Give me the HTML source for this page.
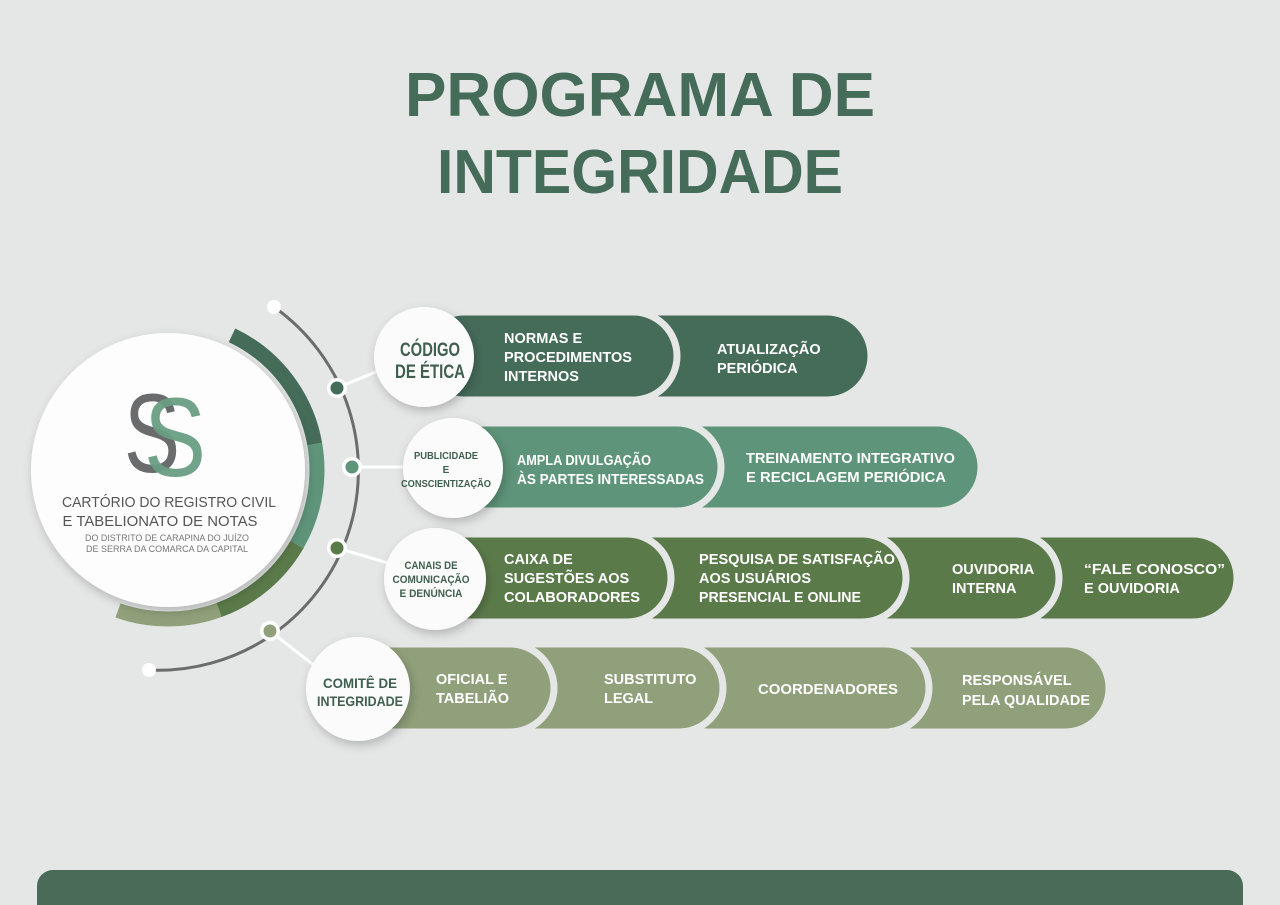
<!DOCTYPE html>
<html><head><meta charset="utf-8"><style>
html,body{margin:0;padding:0;background:#e5e7e6;}
svg{display:block}
text{font-family:"Liberation Sans",sans-serif;}
.w{fill:#fff;font-weight:bold;font-size:14.5px;}
.l{fill:#3f5f4f;font-weight:bold;}
</style></head><body>
<svg width="1280" height="905" viewBox="0 0 1280 905" xmlns="http://www.w3.org/2000/svg">
<defs>
<filter id="sh" x="-30%" y="-30%" width="160%" height="160%"><feDropShadow dx="2" dy="4" stdDeviation="5" flood-color="#000" flood-opacity="0.22"/></filter>
</defs>
<rect width="1280" height="905" fill="#e5e7e6"/>
<text x="640" y="116" text-anchor="middle" font-size="62" font-weight="bold" fill="#456b59" textLength="470" lengthAdjust="spacingAndGlyphs">PROGRAMA DE</text>
<text x="640" y="193" text-anchor="middle" font-size="62" font-weight="bold" fill="#456b59" textLength="406" lengthAdjust="spacingAndGlyphs">INTEGRIDADE</text>

<rect x="37" y="870" width="1206" height="60" rx="16" fill="#4a6b58"/>

<path d="M274 307 A 200 200 0 0 1 149 670" fill="none" stroke="#6b6d6c" stroke-width="3"/>
<circle cx="274" cy="307" r="7" fill="#fff"/>
<circle cx="149" cy="670" r="7" fill="#fff"/>

<g stroke="#fff" stroke-width="3">
<line x1="337" y1="388" x2="385" y2="368"/>
<line x1="352" y1="467" x2="410" y2="467"/>
<line x1="337" y1="548" x2="395" y2="565"/>
<line x1="270" y1="631" x2="320" y2="670"/>
</g>

<g stroke="#e5e7e6" stroke-width="7">
<rect x="600" y="312" width="271" height="88" rx="44" fill="#456b59"/>
<rect x="420" y="312" width="257" height="88" rx="44" fill="#456b59"/>
<rect x="650" y="423" width="331" height="88" rx="44" fill="#5e9479"/>
<rect x="440" y="423" width="281" height="88" rx="44" fill="#5e9479"/>
<rect x="1000" y="534" width="237" height="88" rx="44" fill="#5b7a4a"/>
<rect x="845" y="534" width="214" height="88" rx="44" fill="#5b7a4a"/>
<rect x="610" y="534" width="296" height="88" rx="44" fill="#5b7a4a"/>
<rect x="420" y="534" width="251" height="88" rx="44" fill="#5b7a4a"/>
<rect x="868" y="644" width="241" height="88" rx="44" fill="#8fa07a"/>
<rect x="662" y="644" width="267" height="88" rx="44" fill="#8fa07a"/>
<rect x="493" y="644" width="230" height="88" rx="44" fill="#8fa07a"/>
<rect x="340" y="644" width="214" height="88" rx="44" fill="#8fa07a"/>
</g>

<g>
<text class="w" x="504" y="343">NORMAS E</text>
<text class="w" x="504" y="362" textLength="128" lengthAdjust="spacingAndGlyphs">PROCEDIMENTOS</text>
<text class="w" x="504" y="381">INTERNOS</text>
<text class="w" x="717" y="354">ATUALIZAÇÃO</text>
<text class="w" x="717" y="373">PERIÓDICA</text>

<text class="w" x="517" y="465" textLength="134" lengthAdjust="spacingAndGlyphs">AMPLA DIVULGAÇÃO</text>
<text class="w" x="517" y="484" textLength="187" lengthAdjust="spacingAndGlyphs">ÀS PARTES INTERESSADAS</text>
<text class="w" x="746" y="463" textLength="209" lengthAdjust="spacingAndGlyphs">TREINAMENTO INTEGRATIVO</text>
<text class="w" x="746" y="482" textLength="200" lengthAdjust="spacingAndGlyphs">E RECICLAGEM PERIÓDICA</text>

<text class="w" x="504" y="564">CAIXA DE</text>
<text class="w" x="504" y="583">SUGESTÕES AOS</text>
<text class="w" x="504" y="602" textLength="136" lengthAdjust="spacingAndGlyphs">COLABORADORES</text>
<text class="w" x="699" y="564" textLength="196" lengthAdjust="spacingAndGlyphs">PESQUISA DE SATISFAÇÃO</text>
<text class="w" x="699" y="583">AOS USUÁRIOS</text>
<text class="w" x="699" y="602" textLength="162" lengthAdjust="spacingAndGlyphs">PRESENCIAL E ONLINE</text>
<text class="w" x="952" y="574">OUVIDORIA</text>
<text class="w" x="952" y="593">INTERNA</text>
<text class="w" x="1084" y="574" textLength="141" lengthAdjust="spacingAndGlyphs">“FALE CONOSCO”</text>
<text class="w" x="1084" y="593">E OUVIDORIA</text>

<text class="w" x="436" y="684">OFICIAL E</text>
<text class="w" x="436" y="703">TABELIÃO</text>
<text class="w" x="604" y="684">SUBSTITUTO</text>
<text class="w" x="604" y="703">LEGAL</text>
<text class="w" x="758" y="694" textLength="140" lengthAdjust="spacingAndGlyphs">COORDENADORES</text>
<text class="w" x="962" y="685">RESPONSÁVEL</text>
<text class="w" x="962" y="705" textLength="128" lengthAdjust="spacingAndGlyphs">PELA QUALIDADE</text>
</g>

<g filter="url(#sh)" fill="#fbfbfb">
<circle cx="424" cy="357" r="50"/>
<circle cx="453" cy="468" r="50"/>
<circle cx="435" cy="579" r="51"/>
<circle cx="358" cy="689" r="52"/>
</g>
<text class="l" x="430" y="356" text-anchor="middle" font-size="19" textLength="60" lengthAdjust="spacingAndGlyphs">CÓDIGO</text>
<text class="l" x="430" y="378" text-anchor="middle" font-size="19" textLength="70" lengthAdjust="spacingAndGlyphs">DE ÉTICA</text>
<text class="l" x="446" y="459" text-anchor="middle" font-size="10" textLength="64" lengthAdjust="spacingAndGlyphs">PUBLICIDADE</text>
<text class="l" x="446" y="473" text-anchor="middle" font-size="10">E</text>
<text class="l" x="446" y="487" text-anchor="middle" font-size="10" textLength="90" lengthAdjust="spacingAndGlyphs">CONSCIENTIZAÇÃO</text>
<text class="l" x="431" y="569" text-anchor="middle" font-size="11" textLength="53" lengthAdjust="spacingAndGlyphs">CANAIS DE</text>
<text class="l" x="431" y="583" text-anchor="middle" font-size="11" textLength="77" lengthAdjust="spacingAndGlyphs">COMUNICAÇÃO</text>
<text class="l" x="431" y="597" text-anchor="middle" font-size="11" textLength="63" lengthAdjust="spacingAndGlyphs">E DENÚNCIA</text>
<text class="l" x="360" y="688" text-anchor="middle" font-size="14" textLength="74" lengthAdjust="spacingAndGlyphs">COMITÊ DE</text>
<text class="l" x="360" y="706" text-anchor="middle" font-size="14" textLength="86" lengthAdjust="spacingAndGlyphs">INTEGRIDADE</text>

<g>
<circle cx="337" cy="388" r="10" fill="#fff"/><circle cx="337" cy="388" r="6.5" fill="#456b59"/>
<circle cx="352" cy="467" r="10" fill="#fff"/><circle cx="352" cy="467" r="6.5" fill="#5e9479"/>
<circle cx="337" cy="548" r="10" fill="#fff"/><circle cx="337" cy="548" r="6.5" fill="#5b7a4a"/>
<circle cx="270" cy="631" r="10" fill="#fff"/><circle cx="270" cy="631" r="6.5" fill="#8fa07a"/>
</g>

<g fill="none" stroke-width="15">
<path d="M232.0 335.3 A149 149 0 0 1 314.7 444.1" stroke="#456b59"/>
<path d="M314.7 444.1 A149 149 0 0 1 297.0 544.5" stroke="#5e9479"/>
<path d="M297.0 544.5 A149 149 0 0 1 219.0 610.0" stroke="#5b7a4a"/>
<path d="M219.0 610.0 A149 149 0 0 1 118.0 610.4" stroke="#8fa07a"/>
</g>
<circle cx="168" cy="470" r="137" fill="#fdfdfd" filter="url(#sh)"/>

<text x="124" y="472" font-size="112" fill="#6a6b6d" textLength="56" lengthAdjust="spacingAndGlyphs">S</text>
<text x="144" y="476" font-size="112" fill="#6a9e84" opacity="0.95" textLength="62" lengthAdjust="spacingAndGlyphs">S</text>
<text x="169" y="507" text-anchor="middle" font-size="14.5" fill="#555" textLength="214" lengthAdjust="spacingAndGlyphs">CARTÓRIO DO REGISTRO CIVIL</text>
<text x="160" y="526" text-anchor="middle" font-size="14.5" fill="#555" textLength="195" lengthAdjust="spacingAndGlyphs">E TABELIONATO DE NOTAS</text>
<text x="167" y="541" text-anchor="middle" font-size="9.5" fill="#777" textLength="164" lengthAdjust="spacingAndGlyphs">DO DISTRITO DE CARAPINA DO JUÍZO</text>
<text x="167" y="552" text-anchor="middle" font-size="9.5" fill="#777" textLength="162" lengthAdjust="spacingAndGlyphs">DE SERRA DA COMARCA DA CAPITAL</text>
</svg>
</body></html>
